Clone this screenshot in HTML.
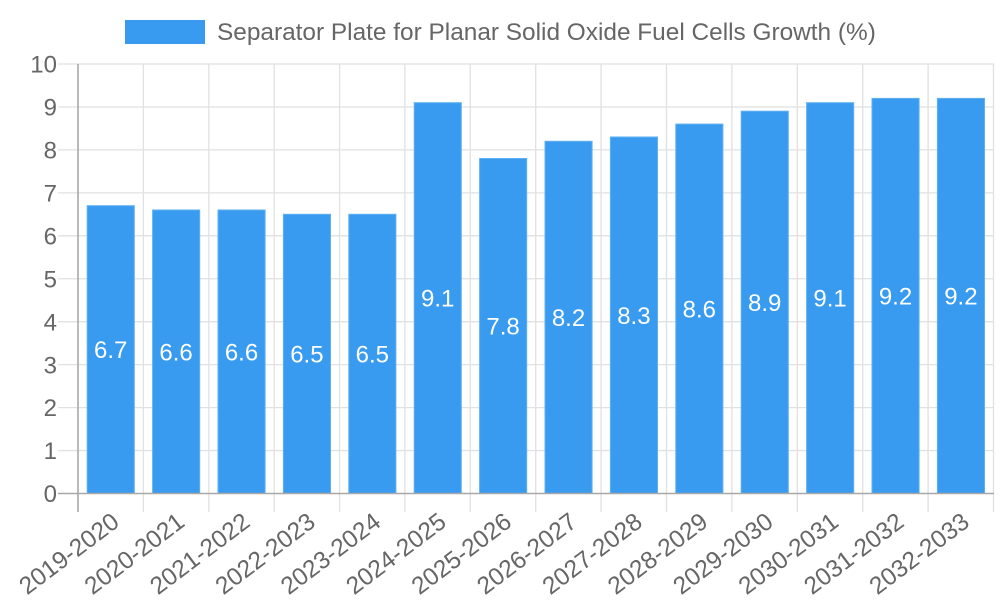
<!DOCTYPE html>
<html><head><meta charset="utf-8"><style>
html,body{margin:0;padding:0;background:#fff;}
svg{display:block;font-family:"Liberation Sans",Arial,sans-serif;}
</style></head><body>
<svg width="1000" height="600" viewBox="0 0 1000 600" xmlns="http://www.w3.org/2000/svg">
<!-- legend -->
<rect x="125" y="20" width="80" height="24" fill="#399bef"/>
<text x="217" y="40" font-size="24.4" fill="#666">Separator Plate for Planar Solid Oxide Fuel Cells Growth (%)</text>

<!-- horizontal grid -->
<g stroke="#e1e1e1" stroke-width="1.3">
<line x1="58" y1="64" x2="994" y2="64"/>
<line x1="58" y1="107" x2="994" y2="107"/>
<line x1="58" y1="149.9" x2="994" y2="149.9"/>
<line x1="58" y1="192.85" x2="994" y2="192.85"/>
<line x1="58" y1="235.8" x2="994" y2="235.8"/>
<line x1="58" y1="278.75" x2="994" y2="278.75"/>
<line x1="58" y1="321.7" x2="994" y2="321.7"/>
<line x1="58" y1="364.65" x2="994" y2="364.65"/>
<line x1="58" y1="407.6" x2="994" y2="407.6"/>
<line x1="58" y1="450.55" x2="994" y2="450.55"/>
</g>
<!-- vertical grid -->
<g stroke="#e1e1e1" stroke-width="1.3">
<line x1="143.4" y1="64" x2="143.4" y2="512"/>
<line x1="208.8" y1="64" x2="208.8" y2="512"/>
<line x1="274.2" y1="64" x2="274.2" y2="512"/>
<line x1="339.6" y1="64" x2="339.6" y2="512"/>
<line x1="404.9" y1="64" x2="404.9" y2="512"/>
<line x1="470.3" y1="64" x2="470.3" y2="512"/>
<line x1="535.7" y1="64" x2="535.7" y2="512"/>
<line x1="601.1" y1="64" x2="601.1" y2="512"/>
<line x1="666.5" y1="64" x2="666.5" y2="512"/>
<line x1="731.9" y1="64" x2="731.9" y2="512"/>
<line x1="797.3" y1="64" x2="797.3" y2="512"/>
<line x1="862.7" y1="64" x2="862.7" y2="512"/>
<line x1="928.1" y1="64" x2="928.1" y2="512"/>
<line x1="993.5" y1="64" x2="993.5" y2="512"/>
</g>

<!-- bars -->
<g fill="#399bef" stroke="#5fb0f2" stroke-width="1">
<rect x="87.2" y="205.7" width="47.1" height="287.8"/>
<rect x="152.6" y="210.0" width="47.1" height="283.5"/>
<rect x="218.0" y="210.0" width="47.1" height="283.5"/>
<rect x="283.4" y="214.3" width="47.1" height="279.2"/>
<rect x="348.8" y="214.3" width="47.1" height="279.2"/>
<rect x="414.2" y="102.7" width="47.1" height="390.8"/>
<rect x="479.6" y="158.5" width="47.1" height="335.0"/>
<rect x="545.0" y="141.3" width="47.1" height="352.2"/>
<rect x="610.4" y="137.0" width="47.1" height="356.5"/>
<rect x="675.8" y="124.1" width="47.1" height="369.4"/>
<rect x="741.2" y="111.2" width="47.1" height="382.3"/>
<rect x="806.6" y="102.7" width="47.1" height="390.8"/>
<rect x="872.0" y="98.4" width="47.1" height="395.1"/>
<rect x="937.4" y="98.4" width="47.1" height="395.1"/>
</g>

<!-- axes -->
<line x1="78" y1="64" x2="78" y2="512" stroke="#a8a8a8" stroke-width="1.6"/>
<line x1="58" y1="493.5" x2="994" y2="493.5" stroke="#a8a8a8" stroke-width="1.6"/>

<!-- y labels -->
<g font-size="24" fill="#666" text-anchor="end">
<text x="57" y="72.6">10</text>
<text x="57" y="115.6">9</text>
<text x="57" y="158.5">8</text>
<text x="57" y="201.5">7</text>
<text x="57" y="244.4">6</text>
<text x="57" y="287.4">5</text>
<text x="57" y="330.3">4</text>
<text x="57" y="373.3">3</text>
<text x="57" y="416.2">2</text>
<text x="57" y="459.2">1</text>
<text x="57" y="502.1">0</text>
</g>

<!-- data labels -->
<g font-size="24" fill="#fff" text-anchor="middle">
<text x="110.7" y="358.2">6.7</text>
<text x="176.1" y="360.4">6.6</text>
<text x="241.5" y="360.4">6.6</text>
<text x="306.9" y="362.5">6.5</text>
<text x="372.3" y="362.5">6.5</text>
<text x="437.7" y="306.7">9.1</text>
<text x="503.1" y="334.6">7.8</text>
<text x="568.5" y="326.0">8.2</text>
<text x="633.9" y="323.9">8.3</text>
<text x="699.3" y="317.4">8.6</text>
<text x="764.7" y="311.0">8.9</text>
<text x="830.1" y="306.7">9.1</text>
<text x="895.5" y="304.6">9.2</text>
<text x="960.9" y="304.6">9.2</text>
</g>

<!-- x labels -->
<g font-size="24.5" fill="#666" text-anchor="end">
<text transform="translate(110.2,511) rotate(-37)" y="17.5">2019-2020</text>
<text transform="translate(175.6,511) rotate(-37)" y="17.5">2020-2021</text>
<text transform="translate(241.0,511) rotate(-37)" y="17.5">2021-2022</text>
<text transform="translate(306.4,511) rotate(-37)" y="17.5">2022-2023</text>
<text transform="translate(371.8,511) rotate(-37)" y="17.5">2023-2024</text>
<text transform="translate(437.2,511) rotate(-37)" y="17.5">2024-2025</text>
<text transform="translate(502.6,511) rotate(-37)" y="17.5">2025-2026</text>
<text transform="translate(568.0,511) rotate(-37)" y="17.5">2026-2027</text>
<text transform="translate(633.4,511) rotate(-37)" y="17.5">2027-2028</text>
<text transform="translate(698.8,511) rotate(-37)" y="17.5">2028-2029</text>
<text transform="translate(764.2,511) rotate(-37)" y="17.5">2029-2030</text>
<text transform="translate(829.6,511) rotate(-37)" y="17.5">2030-2031</text>
<text transform="translate(895.0,511) rotate(-37)" y="17.5">2031-2032</text>
<text transform="translate(960.4,511) rotate(-37)" y="17.5">2032-2033</text>
</g>
</svg>
</body></html>
